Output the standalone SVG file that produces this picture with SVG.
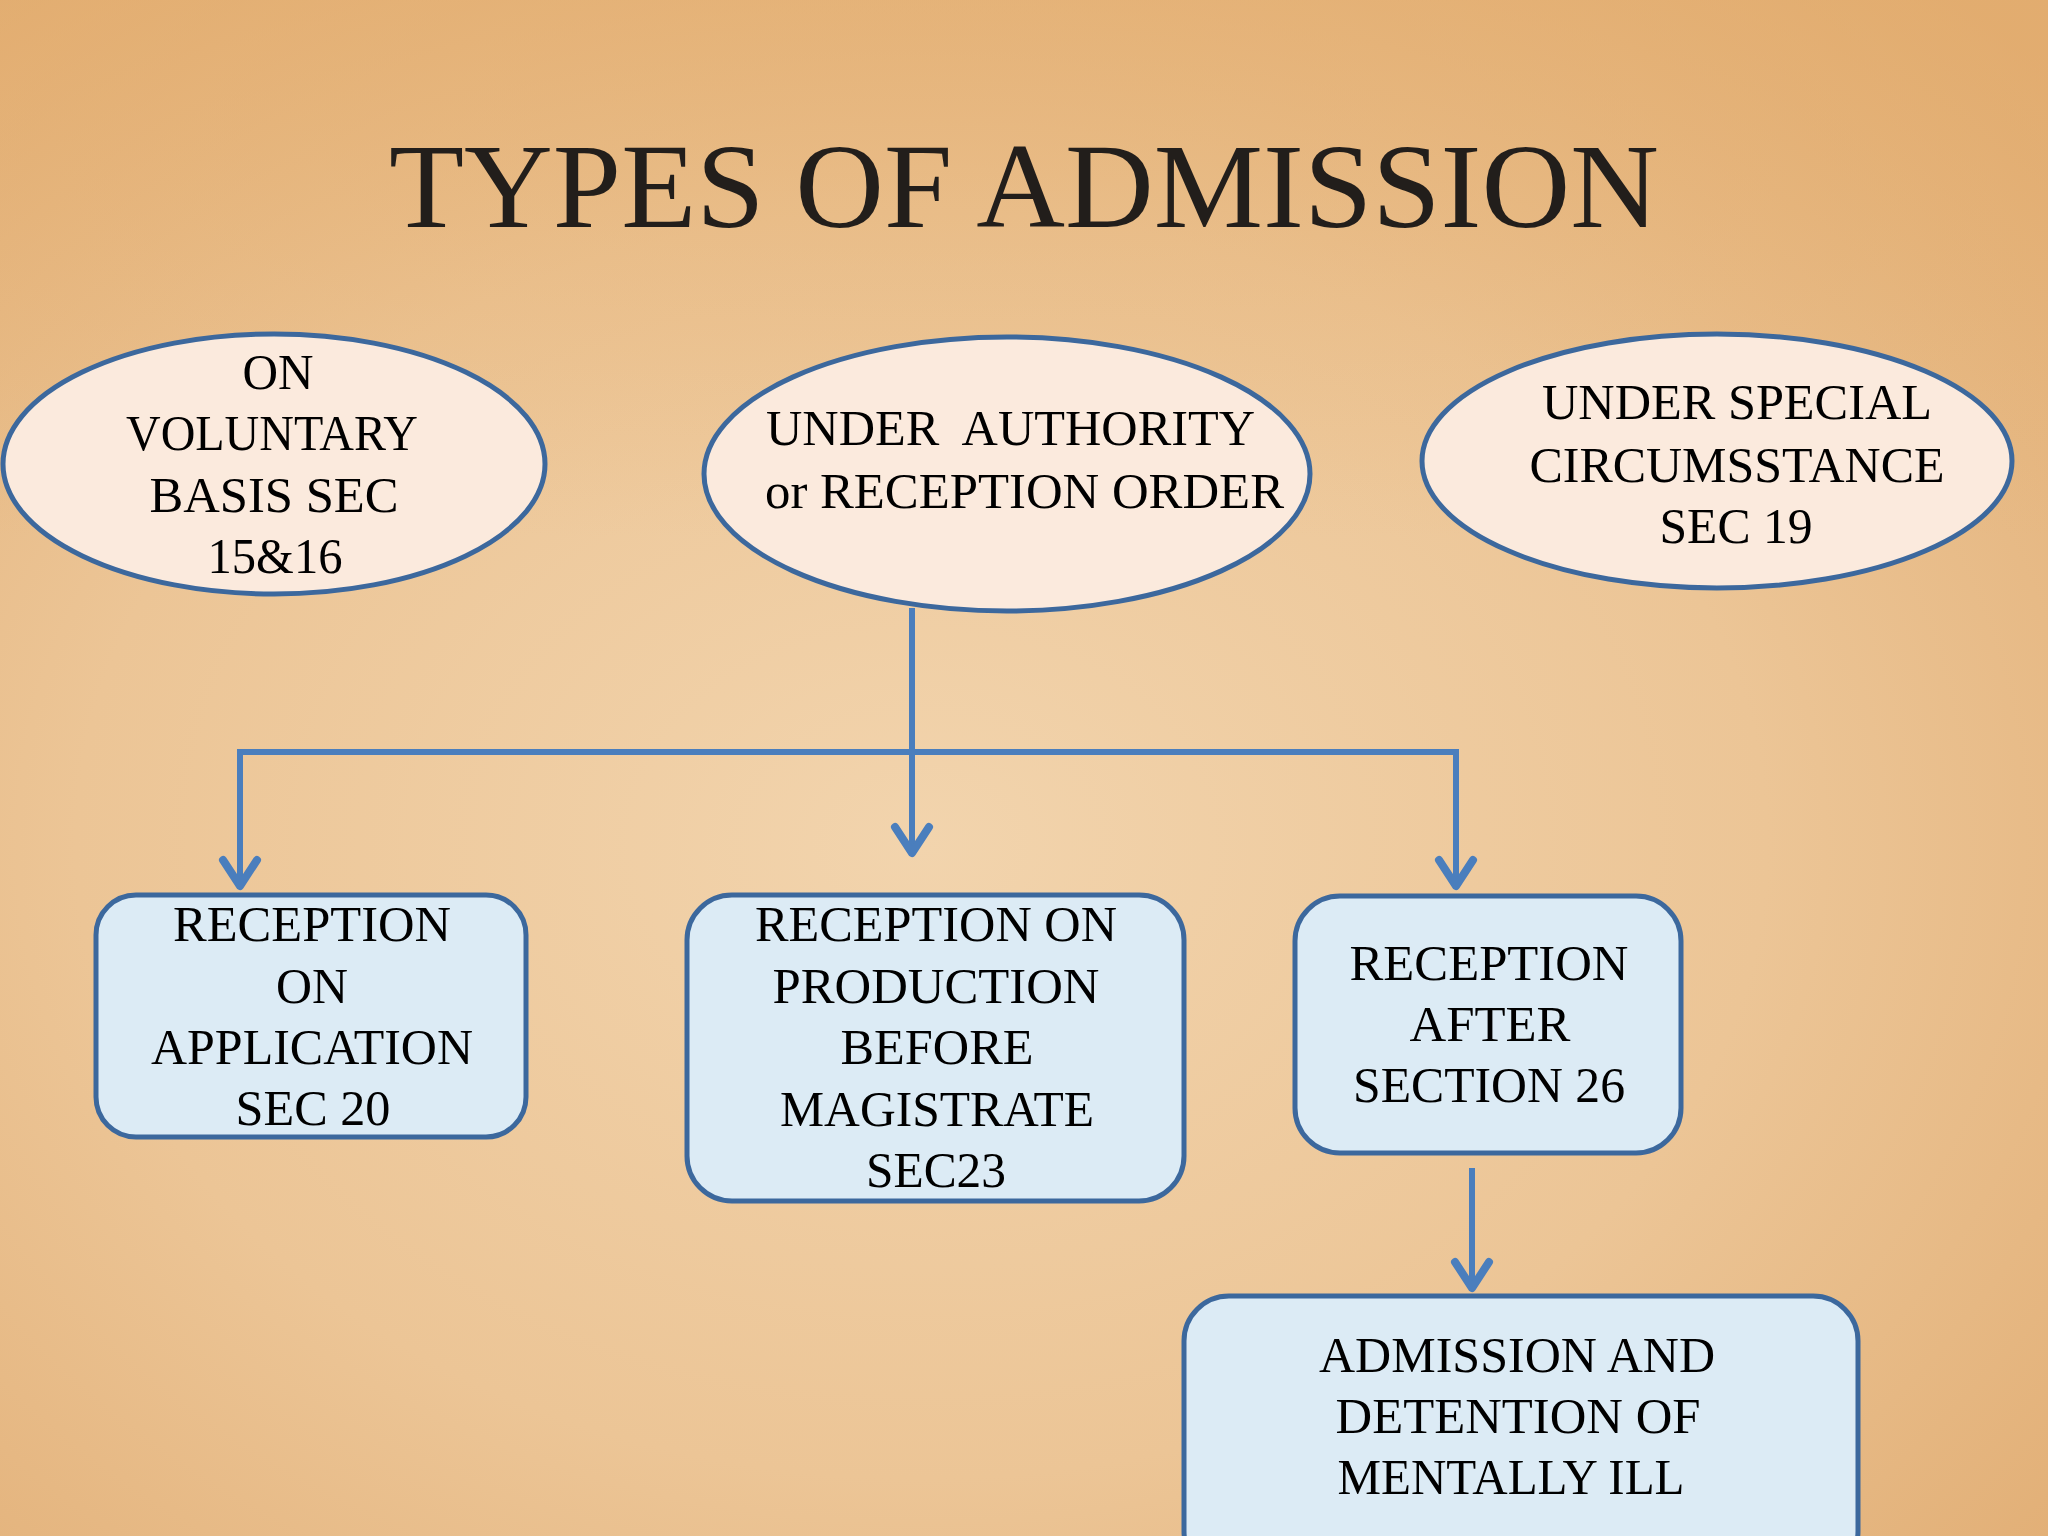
<svg xmlns="http://www.w3.org/2000/svg" width="2048" height="1536" viewBox="0 0 2048 1536">
  <defs>
    <radialGradient id="bg" cx="0.45" cy="0.55" r="0.75">
      <stop offset="0" stop-color="#f2d4ad"/>
      <stop offset="0.55" stop-color="#ecc596"/>
      <stop offset="1" stop-color="#e1ad73"/>
    </radialGradient>
    <linearGradient id="bgTop" x1="0" y1="0" x2="0" y2="1">
      <stop offset="0" stop-color="#e3ac6c" stop-opacity="0.55"/>
      <stop offset="0.35" stop-color="#e3ac6c" stop-opacity="0"/>
      <stop offset="1" stop-color="#e3ac6c" stop-opacity="0"/>
    </linearGradient>
    <marker id="arr" viewBox="-32 -22 38 44" refX="0" refY="0" markerWidth="38" markerHeight="44" markerUnits="userSpaceOnUse" orient="auto" overflow="visible">
      <path d="M-26,-17 L0,0 L-26,17" fill="none" stroke="#4a7ebd" stroke-width="8" stroke-linecap="round" stroke-linejoin="round"/>
    </marker>
    <style>
      .ell { fill: #fbeadd; stroke: #3c689d; stroke-width: 5; }
      .box { fill: #dcebf5; stroke: #3c689d; stroke-width: 5; }
      .t { font-family: "Liberation Serif", "Times New Roman", serif; font-size: 50px; fill: #000; text-anchor: middle; }
      .conn { fill: none; stroke: #4a7ebd; stroke-width: 6; }
    </style>
  </defs>

  <rect x="0" y="0" width="2048" height="1536" fill="url(#bg)"/>
  <rect x="0" y="0" width="2048" height="1536" fill="url(#bgTop)"/>

  <text x="1024" y="227" font-family="'Liberation Serif', 'Times New Roman', serif" font-size="121" fill="#221e1b" text-anchor="middle" textLength="1270" lengthAdjust="spacingAndGlyphs">TYPES OF ADMISSION</text>

  <g id="connectors">
    <path class="conn" d="M912,608 L912,853" marker-end="url(#arr)"/>
    <path class="conn" d="M237,752 L1459,752" stroke-width="8"/>
    <path class="conn" d="M240,752 L240,886" marker-end="url(#arr)"/>
    <path class="conn" d="M1456,752 L1456,886" marker-end="url(#arr)"/>
    <path class="conn" d="M1472,1168 L1472,1288" stroke-width="8" marker-end="url(#arr)"/>
  </g>

  <g id="node-voluntary">
    <ellipse class="ell" cx="274" cy="464" rx="271" ry="130"/>
    <text class="t" x="278" y="389" textLength="71" lengthAdjust="spacingAndGlyphs">ON</text>
    <text class="t" x="272" y="450" textLength="292" lengthAdjust="spacingAndGlyphs">VOLUNTARY</text>
    <text class="t" x="274" y="512" textLength="249" lengthAdjust="spacingAndGlyphs">BASIS SEC</text>
    <text class="t" x="275" y="573" textLength="135" lengthAdjust="spacingAndGlyphs">15&amp;16</text>
  </g>

  <g id="node-authority">
    <ellipse class="ell" cx="1007" cy="474" rx="303" ry="137"/>
    <text class="t" x="1010.5" y="445" textLength="489" lengthAdjust="spacingAndGlyphs" xml:space="preserve">UNDER  AUTHORITY</text>
    <text class="t" x="1024.5" y="508" textLength="519" lengthAdjust="spacingAndGlyphs">or RECEPTION ORDER</text>
  </g>

  <g id="node-special">
    <ellipse class="ell" cx="1717" cy="461" rx="295" ry="127"/>
    <text class="t" x="1737" y="419" textLength="390" lengthAdjust="spacingAndGlyphs">UNDER SPECIAL</text>
    <text class="t" x="1737" y="482" textLength="415" lengthAdjust="spacingAndGlyphs">CIRCUMSSTANCE</text>
    <text class="t" x="1736" y="543" textLength="153" lengthAdjust="spacingAndGlyphs">SEC 19</text>
  </g>

  <g id="node-application">
    <rect class="box" x="96" y="895" width="430" height="242" rx="40" ry="40"/>
    <text class="t" x="312" y="941" textLength="278" lengthAdjust="spacingAndGlyphs">RECEPTION</text>
    <text class="t" x="312" y="1003" textLength="72" lengthAdjust="spacingAndGlyphs">ON</text>
    <text class="t" x="312" y="1064" textLength="322" lengthAdjust="spacingAndGlyphs">APPLICATION</text>
    <text class="t" x="313" y="1125" textLength="155" lengthAdjust="spacingAndGlyphs">SEC 20</text>
  </g>

  <g id="node-magistrate">
    <rect class="box" x="687" y="895" width="497" height="306" rx="45" ry="45"/>
    <text class="t" x="936" y="941" textLength="362" lengthAdjust="spacingAndGlyphs">RECEPTION ON</text>
    <text class="t" x="936" y="1003" textLength="327" lengthAdjust="spacingAndGlyphs">PRODUCTION</text>
    <text class="t" x="937" y="1064" textLength="193" lengthAdjust="spacingAndGlyphs">BEFORE</text>
    <text class="t" x="937" y="1126" textLength="314" lengthAdjust="spacingAndGlyphs">MAGISTRATE</text>
    <text class="t" x="936" y="1187" textLength="140" lengthAdjust="spacingAndGlyphs">SEC23</text>
  </g>

  <g id="node-section26">
    <rect class="box" x="1295" y="896" width="386" height="257" rx="45" ry="45"/>
    <text class="t" x="1489" y="980" textLength="279" lengthAdjust="spacingAndGlyphs">RECEPTION</text>
    <text class="t" x="1490" y="1041" textLength="161" lengthAdjust="spacingAndGlyphs">AFTER</text>
    <text class="t" x="1489" y="1102" textLength="272" lengthAdjust="spacingAndGlyphs">SECTION 26</text>
  </g>

  <g id="node-detention">
    <rect class="box" x="1184" y="1296" width="674" height="280" rx="45" ry="45"/>
    <text class="t" x="1517" y="1372" textLength="396" lengthAdjust="spacingAndGlyphs">ADMISSION AND</text>
    <text class="t" x="1518" y="1433" textLength="365" lengthAdjust="spacingAndGlyphs">DETENTION OF</text>
    <text class="t" x="1511" y="1494" textLength="347" lengthAdjust="spacingAndGlyphs">MENTALLY ILL</text>
  </g>
</svg>
